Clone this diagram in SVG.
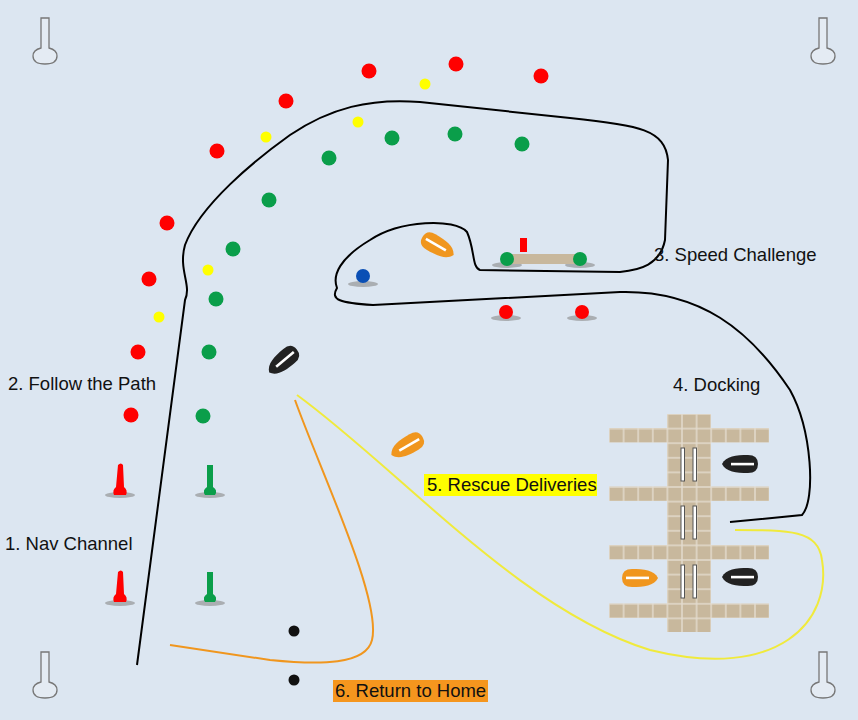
<svg xmlns="http://www.w3.org/2000/svg" width="858" height="720" viewBox="0 0 858 720">
<style>
text{font-family:"Liberation Sans",Arial,sans-serif;font-size:18.5px;fill:#111}
.r{fill:#f00}.y{fill:#ff0}.g{fill:#0a9e4a}
.sh{fill:#888;opacity:.6}
.cl{fill:#e4ebf3;stroke:#777;stroke-width:1.3}
.dk{fill:url(#tile)}
.slot{fill:#fff;stroke:#555;stroke-width:1}
</style>
<defs>
<pattern id="tile" width="14.6" height="14.6" patternUnits="userSpaceOnUse" x="609" y="414">
<rect width="14.6" height="14.6" fill="#e4dccf"/><rect x="0.7" y="0.7" width="13.2" height="13.2" fill="#c8b89d"/>
</pattern>
<g id="boat"><path d="M-18,0 C-14,-8 -4,-9 8,-9 Q18,-9 18,0 Q18,9 8,9 C-4,9 -14,8 -18,0Z"/><path d="M-9,-1.2 H14 V1.4 H-9Z" fill="#fff"/></g>
<g id="cleat"><path class="cl" d="M-4,0 H4 V30 Q12,32 12,38 Q12,46 0,46 Q-12,46 -12,38 Q-12,32 -4,30Z"/></g>
<ellipse id="shad" cx="0" cy="0" rx="15" ry="3" class="sh"/>
</defs>
<rect width="858" height="720" fill="#dce6f1"/>
<g id="cleats"><use href="#cleat" x="45" y="18"/><use href="#cleat" x="823" y="18"/><use href="#cleat" x="45" y="652"/><use href="#cleat" x="823" y="652"/></g>
<g id="connectors" fill="none" stroke-width="2">
<path stroke="#000" d="M137,665 L185,300 C192,285 178,270 185,245 C200,205 255,160 290,135 C330,108 370,98 420,102 L570,118 C640,125 665,130 668,160 L665,240 C660,265 640,270 620,272 L480,270 C472,268 475,250 467,232 C455,218 400,220 370,240 C340,258 332,275 337,288 C330,300 340,303 373,305 L620,292 C700,290 750,330 790,390 C812,430 816,500 802,515 L730,522"/>
<path stroke="#f0ea3c" d="M297,395 C400,470 520,610 650,650 C780,682 832,620 822,560 C818,530 790,530 735,530"/>
<path stroke="#f0961e" d="M295,400 C320,470 382,600 372,640 C366,665 320,665 270,660 L170,645"/>
</g>
<g id="buoys">
<circle class="r" cx="369" cy="71" r="7.5"/><circle class="r" cx="456" cy="64" r="7.5"/><circle class="r" cx="541" cy="76" r="7.5"/><circle class="r" cx="286" cy="101" r="7.5"/><circle class="r" cx="217" cy="151" r="7.5"/><circle class="r" cx="167" cy="223" r="7.5"/><circle class="r" cx="149" cy="279" r="7.5"/><circle class="r" cx="138" cy="352" r="7.5"/><circle class="r" cx="131" cy="415" r="7.5"/>
<circle class="y" cx="425" cy="84" r="5.5"/><circle class="y" cx="358" cy="122" r="5.5"/><circle class="y" cx="266" cy="137" r="5.5"/><circle class="y" cx="208" cy="270" r="5.5"/><circle class="y" cx="159" cy="317" r="5.5"/>
<circle class="g" cx="392" cy="138" r="7.5"/><circle class="g" cx="455" cy="134" r="7.5"/><circle class="g" cx="522" cy="144" r="7.5"/><circle class="g" cx="329" cy="158" r="7.5"/><circle class="g" cx="269" cy="200" r="7.5"/><circle class="g" cx="233" cy="249" r="7.5"/><circle class="g" cx="216" cy="299" r="7.5"/><circle class="g" cx="209" cy="352" r="7.5"/><circle class="g" cx="203" cy="416" r="7.5"/>
</g>
<g id="speed">
<use href="#shad" x="363" y="284"/><circle cx="363" cy="276" r="7" fill="#0a4fb5"/>
<use href="#shad" x="506" y="318"/><circle class="r" cx="506" cy="312" r="7"/>
<use href="#shad" x="582" y="318"/><circle class="r" cx="582" cy="312" r="7"/>
<use href="#shad" x="507" y="265"/><use href="#shad" x="580" y="265"/>
<rect x="512" y="254" width="66" height="10" fill="#c8b89d"/>
<circle class="g" cx="507" cy="259" r="7"/><circle class="g" cx="580" cy="259" r="7"/>
<rect x="520" y="238" width="7" height="14" fill="#f00"/>
</g>
<g id="nav">
<use href="#shad" x="120" y="495"/><use href="#shad" x="210" y="495"/><use href="#shad" x="120" y="603"/><use href="#shad" x="210" y="603"/>
<path class="r" d="M118,465 Q121,462 123,465 L124,487 Q128,490 126,495 H114 Q112,490 116,487Z"/>
<path class="r" d="M118,572 Q121,569 123,572 L124,594 Q128,597 126,602 H114 Q112,597 116,594Z"/>
<path class="g" d="M207,465 H213 V487 Q218,490 215,495 H205 Q202,490 207,487Z"/>
<path class="g" d="M207,572 H213 V594 Q218,597 215,602 H205 Q202,597 207,594Z"/>
</g>
<g id="dock">
<rect class="dk" x="667" y="414" width="44" height="218"/>
<rect class="dk" x="609" y="428" width="160" height="14.6"/>
<rect class="dk" x="609" y="486.4" width="160" height="14.6"/>
<rect class="dk" x="609" y="545" width="160" height="14.6"/>
<rect class="dk" x="609" y="603.4" width="160" height="14.6"/>
<rect class="slot" x="681" y="448" width="3.5" height="33"/><rect class="slot" x="693" y="448" width="3.5" height="33"/>
<rect class="slot" x="681" y="506" width="3.5" height="33"/><rect class="slot" x="693" y="506" width="3.5" height="33"/>
<rect class="slot" x="681" y="565" width="3.5" height="33"/><rect class="slot" x="693" y="565" width="3.5" height="33"/>
</g>
<g id="boats">
<use href="#boat" fill="#222" transform="translate(283,361) rotate(-40)"/>
<use href="#boat" fill="#f0961e" transform="translate(438,246) rotate(210)"/>
<use href="#boat" fill="#f0961e" transform="translate(407,446) rotate(-30)"/>
<use href="#boat" fill="#222" transform="translate(740,464)"/>
<use href="#boat" fill="#222" transform="translate(740,577)"/>
<use href="#boat" fill="#f0961e" transform="translate(640,578) rotate(180)"/>
</g>
<g id="home"><circle cx="294" cy="631" r="5.5" fill="#111"/><circle cx="294" cy="680" r="5.5" fill="#111"/></g>
<g id="labels">
<text x="654" y="261">3. Speed Challenge</text>
<text x="8" y="390">2. Follow the Path</text>
<text x="673" y="391">4. Docking</text>
<rect x="424" y="474" width="173" height="22" fill="#ffff00"/>
<text x="427" y="491">5. Rescue Deliveries</text>
<text x="5" y="550">1. Nav Channel</text>
<rect x="333" y="680" width="155" height="22" fill="#f5961e"/>
<text x="335" y="697">6. Return to Home</text>
</g>
</svg>
